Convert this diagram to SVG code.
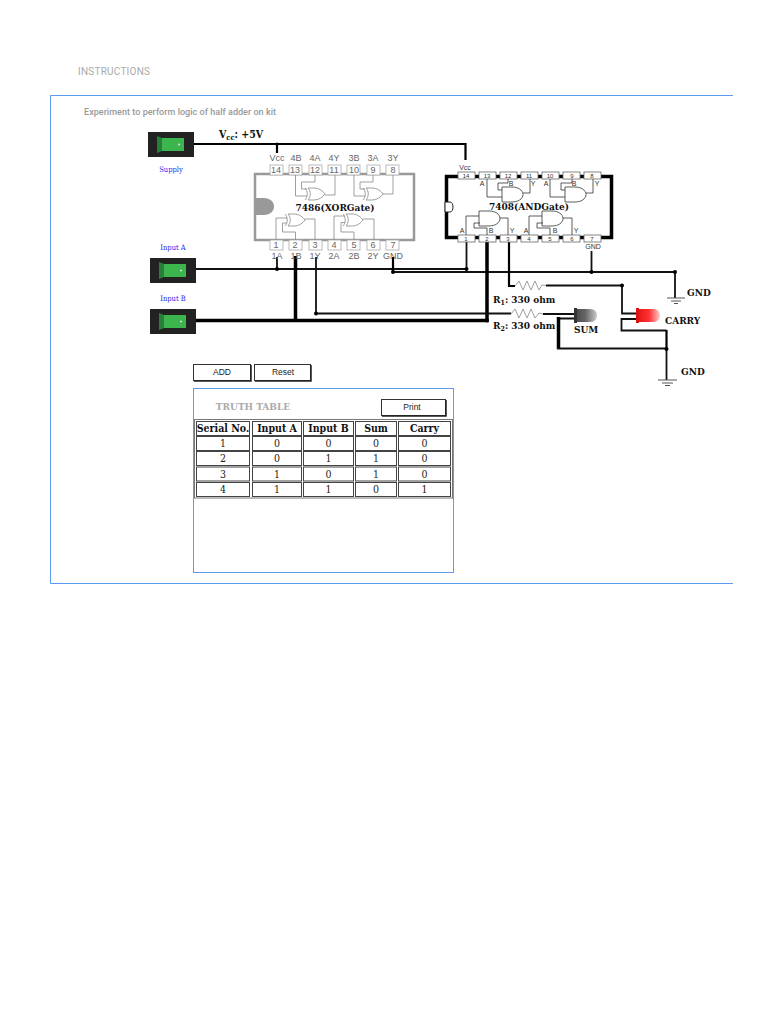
<svg xmlns="http://www.w3.org/2000/svg" width="768" height="1024" viewBox="0 0 768 1024">
<style>
text{font-family:"DejaVu Serif Condensed","DejaVu Serif","Liberation Serif",serif;font-stretch:condensed}
.b{font-weight:bold;font-size:10px;fill:#111}
.pin{fill:#fff;stroke:#aaa;stroke-width:.8}
.apin{fill:#fff;stroke:#666;stroke-width:.8}
.pn{font-family:"Liberation Sans",Arial,sans-serif;font-size:9px;fill:#666;text-anchor:middle;font-stretch:normal}
.an{font-family:"Liberation Sans",Arial,sans-serif;font-size:7px;fill:#333;text-anchor:middle;font-stretch:normal}
.an6{font-family:"Liberation Sans",Arial,sans-serif;font-size:6px;fill:#333;text-anchor:middle;font-stretch:normal}
.blue{font-size:7.500px;fill:#2a2af0;text-anchor:middle}
.w{fill:none;stroke:#000;stroke-width:2.200}
.w1{fill:none;stroke:#111;stroke-width:1.800}
.w3{fill:none;stroke:#000;stroke-width:3.500}
.g{fill:none;stroke:#888;stroke-width:.8}
.k{fill:none;stroke:#333;stroke-width:.8}
.btn{fill:#fff;stroke:#333;stroke-width:1}
.bt{font-family:"Liberation Sans",Arial,sans-serif;font-size:8.500px;fill:#222;text-anchor:middle;font-stretch:normal}
.th{font-weight:bold;font-size:10.500px;fill:#111;text-anchor:middle}
.td{font-size:10.500px;fill:#222;text-anchor:middle}
.c{fill:#fff;stroke:#444;stroke-width:1}
</style>
<defs>
<g id="xor"><path class="g" d="M3 0C6 3 6 9 3 12M0 0C3 3 3 9 0 12"/><path class="g" d="M3 0H9C14 0 18 3 20 6C18 9 14 12 9 12H3"/></g>
<g id="and"><path class="k" d="M0 0H10C16 0 21 3 21 7.500C21 12 16 15 10 15H0Z" fill="#fff"/></g>
<g id="sw"><rect width="46" height="25" fill="#222"/><path d="M9 4L14 6V19L9 21Z" fill="#27803a"/><rect x="14" y="6" width="22" height="13" fill="#3cb54e"/><circle cx="31" cy="12.500" r="1" fill="#ddd"/></g>
<linearGradient id="gs"><stop offset="0" stop-color="#444"/><stop offset=".5" stop-color="#666"/><stop offset="1" stop-color="#ccc"/></linearGradient>
<linearGradient id="gr"><stop offset="0" stop-color="#e01010"/><stop offset=".55" stop-color="#f33"/><stop offset="1" stop-color="#fcc"/></linearGradient>
</defs>
<rect width="768" height="1024" fill="#fff"/>
<text x="78" y="75" font-size="10" textLength="72" style="font-family:Roboto,'Liberation Sans',sans-serif;font-stretch:normal" fill="#aaa">INSTRUCTIONS</text>
<path d="M733 95.500H50.500V583.500H733" fill="none" stroke="#5b9bf0" stroke-width="1"/>
<text x="84" y="115" font-size="9" textLength="192" style="font-family:Roboto,'Liberation Sans',Arial,sans-serif;font-weight:500;font-stretch:normal" fill="#999">Experiment to perform logic of half adder on kit</text>

<g id="connectors">
<path class="w" d="M194 144H465.500V160M277 144V153"/>
<path class="w1" d="M196 269H466.500V242M277 257V269"/>
<path class="w" d="M393 257V272"/>
<path class="w1" d="M393 272H675V298M591.500 251V272"/>
<path class="w3" d="M295.500 256V320M196 320.500H487V242"/>
<path class="w1" d="M316 257V313.500H511"/>
<path class="w" d="M509 242V286H515"/>
<path class="w1" d="M546 285.500H622V313.500H637"/>
<path class="w1" d="M637 319H621.500V330.500H666.500"/>
<path class="w" d="M666.500 330V349"/>
<path class="w1" d="M666.500 349V380"/>
<path class="w1" d="M543 314H575M574 318.500H558.500"/>
<path class="w3" d="M558.500 317V349"/>
<path class="w1" d="M557 348.500H666.500"/>
<polyline class="g" stroke-width="1" points="515,286 519,281 523,290 527,281 531,290 535,281 539,290 542,285 546,285.500"/>
<polyline class="g" stroke-width="1" points="511,314 515,309 519,318 523,309 527,318 531,309 535,318 539,313 543,314"/>
<g fill="#000"><circle cx="277" cy="144" r="1.500"/><circle cx="277" cy="269" r="2"/><circle cx="393" cy="272" r="2"/><circle cx="466.500" cy="269" r="2"/><circle cx="591.500" cy="272" r="2"/><circle cx="675" cy="272" r="2"/><circle cx="622" cy="285.500" r="2"/><circle cx="316" cy="313.500" r="2"/><circle cx="487" cy="320.500" r="2"/><circle cx="666.500" cy="349" r="2"/></g>
</g>

<g id="switch-supply"><use href="#sw" x="148" y="132"/><text class="blue" x="171" y="172">Supply</text></g>
<g id="switch-a"><use href="#sw" x="150" y="258"/><text class="blue" x="173" y="250">Input A</text></g>
<g id="switch-b"><use href="#sw" x="150" y="309"/><text class="blue" x="173" y="301">Input B</text></g>
<g id="vcc-label"><text class="b" x="219" y="138" style="font-size:10.500px">V<tspan font-size="7.500" dy="2">cc</tspan><tspan dy="-2">: +5V</tspan></text></g>

<g id="ic-7486">
<rect x="255" y="174" width="159" height="66" fill="#fff" stroke="#999" stroke-width="2.500"/>
<path d="M255 198H264C270 198 274 202 274 206.500C274 211 270 215 264 215H255Z" fill="#999"/>
<g class="pin">
<rect x="270" y="165" width="13" height="10"/><rect x="289" y="165" width="13" height="10"/><rect x="309" y="165" width="13" height="10"/><rect x="328" y="165" width="13" height="10"/><rect x="347" y="165" width="13" height="10"/><rect x="367" y="165" width="13" height="10"/><rect x="386" y="165" width="13" height="10"/>
<rect x="270" y="240" width="13" height="10"/><rect x="289" y="240" width="13" height="10"/><rect x="309" y="240" width="13" height="10"/><rect x="328" y="240" width="13" height="10"/><rect x="347" y="240" width="13" height="10"/><rect x="367" y="240" width="13" height="10"/><rect x="386" y="240" width="13" height="10"/>
</g>
<text class="pn" x="277" y="161">Vcc</text><text class="pn" x="296" y="161">4B</text><text class="pn" x="315" y="161">4A</text><text class="pn" x="334" y="161">4Y</text><text class="pn" x="354" y="161">3B</text><text class="pn" x="373" y="161">3A</text><text class="pn" x="393" y="161">3Y</text>
<text class="pn" x="276" y="173">14</text><text class="pn" x="295" y="173">13</text><text class="pn" x="315" y="173">12</text><text class="pn" x="334" y="173">11</text><text class="pn" x="354" y="173">10</text><text class="pn" x="373" y="173">9</text><text class="pn" x="393" y="173">8</text>
<text class="pn" x="276" y="248">1</text><text class="pn" x="295" y="248">2</text><text class="pn" x="315" y="248">3</text><text class="pn" x="334" y="248">4</text><text class="pn" x="354" y="248">5</text><text class="pn" x="373" y="248">6</text><text class="pn" x="393" y="248">7</text>
<text class="pn" x="277" y="259">1A</text><text class="pn" x="296" y="259">1B</text><text class="pn" x="315" y="259">1Y</text><text class="pn" x="334" y="259">2A</text><text class="pn" x="354" y="259">2B</text><text class="pn" x="373" y="259">2Y</text><text class="pn" x="393" y="259">GND</text>
<use href="#xor" x="305" y="188"/><use href="#xor" x="363" y="188"/><use href="#xor" x="285" y="214"/><use href="#xor" x="343" y="214"/>
<path class="g" d="M295.500 175V196H307M315 175V182H301.500V189H307M335 175V195H325"/>
<path class="g" d="M354 175V196H365M373 175V182H360V189H365M393 175V194H383"/>
<path class="g" d="M276 240V218H287M295.500 240V232H282.500V223H287M315 240V219H305"/>
<path class="g" d="M334 240V216H345M354 240V232H341V222.500H345M374 240V219H363"/>
<text class="b" x="335" y="211" text-anchor="middle">7486(XORGate)</text>
</g>

<g id="ic-7408">
<rect x="446.500" y="176.500" width="165" height="61" fill="#fff" stroke="#000" stroke-width="3.500"/>
<path d="M445 202H450C454 202 454 212 450 212H445Z" fill="#fff" stroke="#222" stroke-width="1"/>
<g class="apin">
<rect x="458" y="172" width="17" height="7"/><rect x="479" y="172" width="17" height="7"/><rect x="500" y="172" width="17" height="7"/><rect x="521" y="172" width="17" height="7"/><rect x="542" y="172" width="17" height="7"/><rect x="563" y="172" width="17" height="7"/><rect x="584" y="172" width="17" height="7"/>
<rect x="458" y="235" width="17" height="7"/><rect x="479" y="235" width="17" height="7"/><rect x="500" y="235" width="17" height="7"/><rect x="521" y="235" width="17" height="7"/><rect x="542" y="235" width="17" height="7"/><rect x="563" y="235" width="17" height="7"/><rect x="584" y="235" width="17" height="7"/>
</g>
<text x="466" y="178" class="an6">14</text><text x="487" y="178" class="an6">13</text><text x="508" y="178" class="an6">12</text><text x="529" y="178" class="an6">11</text><text x="550" y="178" class="an6">10</text><text x="572" y="178" class="an6">9</text><text x="592" y="178" class="an6">8</text>
<text x="466" y="241" class="an6">1</text><text x="487" y="241" class="an6">2</text><text x="508" y="241" class="an6">3</text><text x="529" y="241" class="an6">4</text><text x="550" y="241" class="an6">5</text><text x="572" y="241" class="an6">6</text><text x="592" y="241" class="an6">7</text>
<text class="an" x="465" y="170">Vcc</text><text class="an" x="593" y="249">GND</text>
<path class="k" d="M487 179V197H502M508 179V183H498V190H502M530 179V193H523"/>
<path class="k" d="M550 179V197H565M572 179V183H561V190H565M593 179V193H586"/>
<path class="k" d="M466 235V216H479M487 235V228H474V223H480M508 235V218H500"/>
<path class="k" d="M529 235V216H542M550 235V228H537V223H543M572 235V218H563"/>
<use href="#and" x="502" y="187"/><use href="#and" x="565" y="187"/><use href="#and" x="479" y="211"/><use href="#and" x="542" y="211"/>
<text class="an" x="482" y="186">A</text><text class="an" x="511" y="186">B</text><text class="an" x="533" y="186">Y</text><text class="an" x="546" y="186">A</text><text class="an" x="574" y="186">B</text><text class="an" x="597" y="186">Y</text>
<text class="an" x="462" y="233">A</text><text class="an" x="491" y="233">B</text><text class="an" x="512" y="233">Y</text><text class="an" x="526" y="233">A</text><text class="an" x="555" y="233">B</text><text class="an" x="576" y="233">Y</text>
<text class="b" x="529" y="210" text-anchor="middle">7408(ANDGate)</text>
</g>

<g id="r1"><text class="b" x="493" y="303">R<tspan font-size="7" dy="2">1</tspan><tspan dy="-2">: 330 ohm</tspan></text></g>
<g id="r2"><text class="b" x="493" y="329">R<tspan font-size="7" dy="2">2</tspan><tspan dy="-2">: 330 ohm</tspan></text></g>
<g id="led-sum"><path d="M574 309H590C595 309 597 312 597 315.500C597 319 595 322 590 322H574Z" fill="url(#gs)"/><rect x="574" y="308" width="3" height="15" fill="#333"/><text class="b" x="574" y="333">SUM</text></g>
<g id="led-carry"><path d="M636 309H653C658 309 660 312 660 315.500C660 319 658 322 653 322H636Z" fill="url(#gr)"/><rect x="636" y="308" width="3" height="15" fill="#d11"/><text class="b" x="665" y="324">CARRY</text></g>
<g id="gnd-1"><path d="M667 298H685M671 301H681M674 303.500H678" stroke="#555" stroke-width="1" fill="none"/><text class="b" x="687" y="296">GND</text></g>
<g id="gnd-2"><path d="M658 380H677M662 383H673M665 385.500H670" stroke="#555" stroke-width="1" fill="none"/><text class="b" x="681" y="375">GND</text></g>

<g id="btn-add"><rect class="btn" x="193.500" y="364.500" width="57" height="16"/><path d="M251 365V381H194" stroke="#222" stroke-width="1.500" fill="none"/><text class="bt" x="222" y="374.500">ADD</text></g>
<g id="btn-reset"><rect class="btn" x="254.500" y="364.500" width="56" height="16"/><path d="M311 365V381H255" stroke="#222" stroke-width="1.500" fill="none"/><text class="bt" x="283" y="374.500">Reset</text></g>

<g id="truth-table">
<rect x="193.500" y="388.500" width="260" height="184" fill="#fff" stroke="#5b9bf0" stroke-width="1"/>
<text x="253" y="410" font-size="10" font-weight="bold" fill="#aaa" text-anchor="middle">TRUTH TABLE</text>
<rect class="btn" x="381.500" y="399.500" width="64" height="16"/><path d="M446 400V416H382" stroke="#222" stroke-width="1.500" fill="none"/><text class="bt" x="412" y="410">Print</text>
<rect x="194.500" y="419.500" width="258" height="78.500" fill="#fff" stroke="#777" stroke-width="1"/>
<g>
<rect class="c" x="196.500" y="421.500" width="53" height="14"/><rect class="c" x="252.500" y="421.500" width="49" height="14"/><rect class="c" x="303.500" y="421.500" width="50" height="14"/><rect class="c" x="355.500" y="421.500" width="41" height="14"/><rect class="c" x="398.500" y="421.500" width="52" height="14"/>
<rect class="c" x="196.500" y="436.500" width="53" height="14"/><rect class="c" x="252.500" y="436.500" width="49" height="14"/><rect class="c" x="303.500" y="436.500" width="50" height="14"/><rect class="c" x="355.500" y="436.500" width="41" height="14"/><rect class="c" x="398.500" y="436.500" width="52" height="14"/>
<rect class="c" x="196.500" y="451.500" width="53" height="14"/><rect class="c" x="252.500" y="451.500" width="49" height="14"/><rect class="c" x="303.500" y="451.500" width="50" height="14"/><rect class="c" x="355.500" y="451.500" width="41" height="14"/><rect class="c" x="398.500" y="451.500" width="52" height="14"/>
<rect class="c" x="196.500" y="467" width="53" height="14"/><rect class="c" x="252.500" y="467" width="49" height="14"/><rect class="c" x="303.500" y="467" width="50" height="14"/><rect class="c" x="355.500" y="467" width="41" height="14"/><rect class="c" x="398.500" y="467" width="52" height="14"/>
<rect class="c" x="196.500" y="482.500" width="53" height="14"/><rect class="c" x="252.500" y="482.500" width="49" height="14"/><rect class="c" x="303.500" y="482.500" width="50" height="14"/><rect class="c" x="355.500" y="482.500" width="41" height="14"/><rect class="c" x="398.500" y="482.500" width="52" height="14"/>
</g>
<text class="th" x="223" y="432">Serial No.</text><text class="th" x="277" y="432">Input A</text><text class="th" x="328.500" y="432">Input B</text><text class="th" x="376" y="432">Sum</text><text class="th" x="424.500" y="432">Carry</text>
<text class="td" x="223" y="447">1</text><text class="td" x="277" y="447">0</text><text class="td" x="328.500" y="447">0</text><text class="td" x="376" y="447">0</text><text class="td" x="424.500" y="447">0</text>
<text class="td" x="223" y="462">2</text><text class="td" x="277" y="462">0</text><text class="td" x="328.500" y="462">1</text><text class="td" x="376" y="462">1</text><text class="td" x="424.500" y="462">0</text>
<text class="td" x="223" y="477.500">3</text><text class="td" x="277" y="477.500">1</text><text class="td" x="328.500" y="477.500">0</text><text class="td" x="376" y="477.500">1</text><text class="td" x="424.500" y="477.500">0</text>
<text class="td" x="223" y="493">4</text><text class="td" x="277" y="493">1</text><text class="td" x="328.500" y="493">1</text><text class="td" x="376" y="493">0</text><text class="td" x="424.500" y="493">1</text>
</g>
</svg>
